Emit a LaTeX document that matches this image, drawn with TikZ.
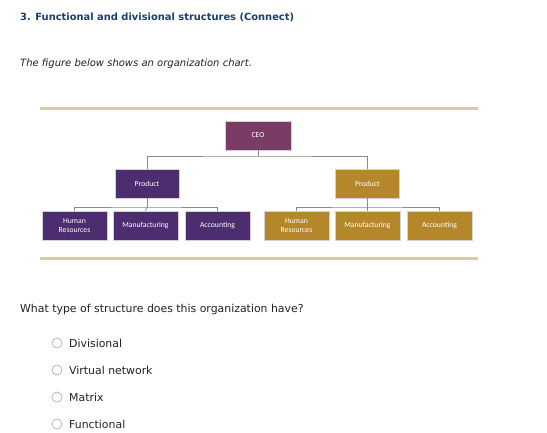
\documentclass[tikz,border=0pt]{standalone}
\usepackage{fontspec}
\setmainfont{DejaVu Sans}
\newfontfamily\boxfont{Carlito}
\definecolor{titleblue}{HTML}{1B3F6B}
\definecolor{ceocol}{HTML}{7A3B64}
\definecolor{purp}{HTML}{4B2D70}
\definecolor{gold}{HTML}{B5872B}
\definecolor{rule}{HTML}{D9CD9E}
\definecolor{conn}{HTML}{8A8A8A}
\definecolor{txt}{HTML}{222222}
\begin{document}
\begin{tikzpicture}[x=1pt,y=-1pt,
  orgbox/.style={draw=gray!35,line width=0.8pt,minimum width=65pt,minimum height=29pt,inner sep=1pt,
     text=white,font=\boxfont\fontsize{7.7}{9}\selectfont,align=center},
  pbox/.style={orgbox,fill=purp},
  gbox/.style={orgbox,fill=gold},
  cbox/.style={orgbox,fill=ceocol,minimum width=66pt},
  connector/.style={draw=conn,line width=0.8pt},
  goldrule/.style={draw=rule,line width=3pt},
  qtext/.style={anchor=west,inner sep=0pt,text=txt,font=\fontsize{10.9}{12}\selectfont},
  radio/.style={circle,draw=gray!70,line width=0.6pt,minimum size=10pt,inner sep=0pt,fill=white}]
\useasboundingbox (0,0) rectangle (547,432);
\fill[white] (0,0) rectangle (547,432);
% header
\node[anchor=west,inner sep=0pt,text=titleblue,font=\bfseries\fontsize{9.9}{11}\selectfont] (title) at (20,17) {3. Functional and divisional structures (Connect)};
\node[anchor=west,inner sep=0pt,text=txt,font=\itshape\fontsize{10}{11}\selectfont] (intro) at (20,64) {The figure below shows an organization chart.};
% rules
\coordinate (r1a) at (40,108); \coordinate (r1b) at (478,108);
\coordinate (r2a) at (40,258); \coordinate (r2b) at (478,258);
\draw[goldrule] (r1a) -- (r1b);
\draw[goldrule] (r2a) -- (r2b);
% boxes
\node[cbox] (ceo) at (258,135.5) {CEO};
\node[pbox,minimum width=64pt] (pl) at (147,183.5) {Product};
\node[gbox,minimum width=64pt] (pr) at (367.5,183.5) {Product};
\node[pbox] (hl) at (74.5,225.5) {Human\\Resources};
\node[pbox] (ml) at (145.5,225.5) {Manufacturing};
\node[pbox] (al) at (217.5,225.5) {Accounting};
\node[gbox] (hr) at (296.5,225.5) {Human\\Resources};
\node[gbox] (mr) at (367.5,225.5) {Manufacturing};
\node[gbox] (ar) at (439.5,225.5) {Accounting};
% connectors
\coordinate (j1) at (258,156);
\coordinate (j2) at (147,207);
\coordinate (j3) at (367.5,207);
\draw[connector] (ceo.south) -- (j1);
\draw[connector] (pl.north) |- (j1) -| (pr.north);
\draw[connector] (pl.south) -- (j2);
\draw[connector] (hl.north) |- (j2) -| (al.north);
\draw[connector] (ml.north) -- (j2);
\draw[connector] (pr.south) -- (j3);
\draw[connector] (hr.north) |- (j3) -| (ar.north);
\draw[connector] (mr.north) -- (j3);
% question
\node[qtext] (q) at (20,309) {What type of structure does this organization have?};
\node[radio] (rb1) at (57,343) {};
\node[radio] (rb2) at (57,370) {};
\node[radio] (rb3) at (57,397) {};
\node[radio] (rb4) at (57,424) {};
\node[qtext] (o1) at (69,343) {Divisional};
\node[qtext] (o2) at (69,370) {Virtual network};
\node[qtext] (o3) at (69,397) {Matrix};
\node[qtext] (o4) at (69,424) {Functional};
\end{tikzpicture}
\end{document}
